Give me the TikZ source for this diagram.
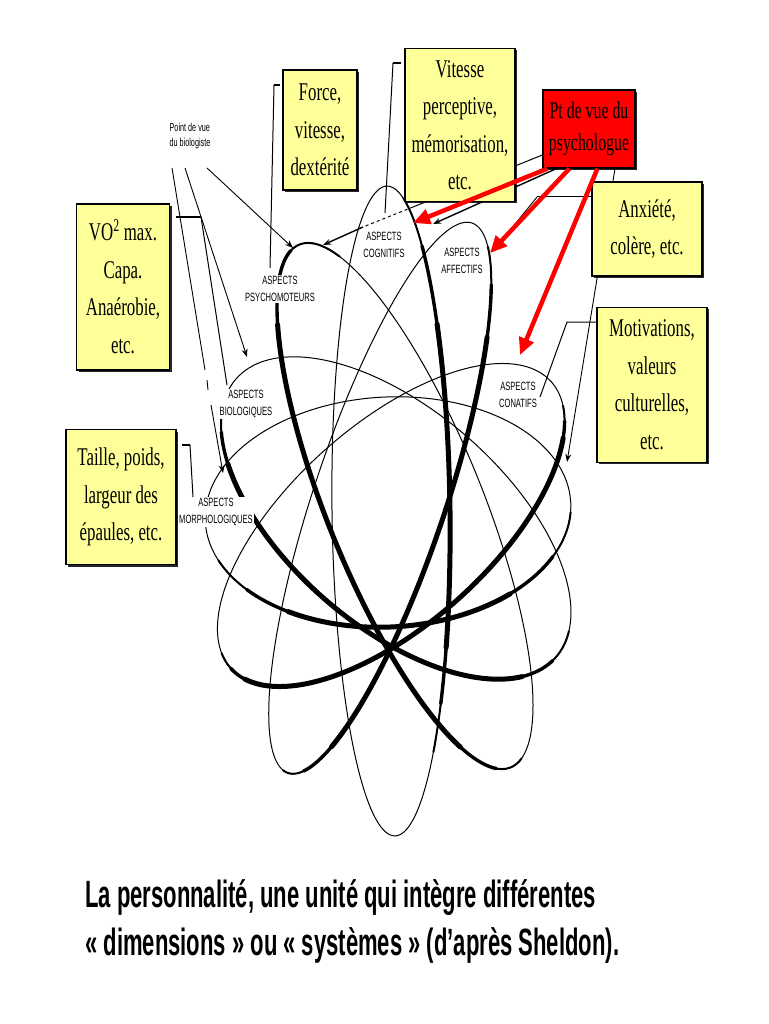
\documentclass[tikz,border=0pt]{standalone}
\usepackage{fontspec}
\setmainfont{Liberation Serif}
\newfontfamily\boxfont[FakeStretch=0.66]{Liberation Serif}
\newfontfamily\tagfont[FakeStretch=0.63]{Liberation Sans}
\newfontfamily\titlefont[FakeStretch=0.58]{Liberation Sans}
\usetikzlibrary{arrows.meta,positioning,shadows}

\definecolor{notebg}{HTML}{FFFF99}
\definecolor{alarm} {HTML}{FF0000}
\tikzset{
  shadowy/.style={drop shadow={shadow xshift=2pt, shadow yshift=-2pt,
                               fill=black, opacity=0.85}},
  notebox/.style={
    rectangle, draw=black, line width=1.2pt, fill=notebg,
    text=black, font=\boxfont\fontsize{25.5}{37.5}\selectfont, align=center,
    inner sep=2pt, shadowy
  },
  redbox/.style={notebox, fill=alarm, font=\boxfont\fontsize{24}{32}\selectfont},
  aspect/.style={fill=white, inner sep=1pt, align=center,
                 font=\tagfont\fontsize{12}{17}\selectfont},
  pointer/.style={-{Stealth[length=8pt, width=6pt]}, line width=0.9pt},
  redpointer/.style={-{Triangle[length=17pt, width=15pt]}, line width=4.5pt, draw=alarm, color=alarm},
  tether/.style={line width=1pt},
  tick/.style={line width=2.2pt}
}

% one orbit: cx cy a b angle, thick part t1..t2, thickest part p1..p2
\newcommand{\orbit}[9]{%
  \pgfmathsetmacro{\orbitmidA}{(#6+#8)/2}%
  \pgfmathsetmacro{\orbitmidB}{(#7+#9)/2}%
  \foreach \w/\ta/\tb in {1.0/0/360, 2.0/#6/#7, 3.4/\orbitmidA/\orbitmidB, 5.0/#8/#9}
    {\draw[line width=\w pt, line cap=round] plot[smooth, samples=80, domain=\ta:\tb]
      ({#1+#3*cos(\x)*cos(#5)-#4*sin(\x)*sin(#5)}, {#2+#3*cos(\x)*sin(#5)+#4*sin(\x)*cos(#5)});}%
}

\begin{document}
\begin{tikzpicture}[x=1pt, y=-1pt]
  \fill[white] (0,0) rectangle (768,1024);
  \useasboundingbox (0,0) rectangle (768,1024);

  % the six orbits
  \orbit{391}{511}{325}{59}{89.3}{196}{318}{235}{295}   % cognitifs
  \orbit{405}{506}{282}{78}{68}{-10}{205}{30}{140}      % psychomoteurs
  \orbit{380}{498}{290}{66}{108.5}{200}{365}{230}{330}  % affectifs
  \orbit{396}{518}{212}{108}{41}{-15}{165}{20}{140}     % biologiques
  \orbit{391}{525}{215}{100}{-41.8}{15}{190}{30}{170}   % conatifs
  \orbit{388}{512}{183}{115}{-3}{5}{160}{50}{125}       % morphologiques

  \node[aspect] (psychomot) at (280,289) {ASPECTS\\PSYCHOMOTEURS};
  \node[aspect] (cogni)     at (384,245) {ASPECTS\\COGNITIFS};
  \node[aspect] (affect)    at (462,261) {ASPECTS\\AFFECTIFS};
  \node[aspect] (biolog)    at (246,404) {ASPECTS\\BIOLOGIQUES};
  \node[aspect] (morpho)    at (216,512) {ASPECTS\\MORPHOLOGIQUES};
  \node[aspect] (conat)     at (518,395) {ASPECTS\\CONATIFS};

  \node[align=left, font=\tagfont\fontsize{11.5}{15}\selectfont] (biolo) at (190,136)
    {Point de vue\\du biologiste};

  \node[redbox, minimum width=92pt, minimum height=78pt] (psy) at (589,129)
    {Pt de vue du\\psychologue};

  % free ends
  \coordinate (bioA)    at (207,168);
  \coordinate (bioB)    at (185,168);
  \coordinate (bioC)    at (172,168);
  \coordinate (gapTop)  at (205,370);
  \coordinate (gapBot)  at (211,405);
  \coordinate (psyTip)  at (293,248);
  \coordinate (bioTip)  at (247,357);
  \coordinate (morTip)  at (223,473);
  \coordinate (dashA)   at (413,207);
  \coordinate (dashB)   at (363,227);
  \coordinate (leftTip) at (323,245);
  \coordinate (anxKnee) at (537,197);
  \coordinate (affTip)  at (494,250);
  \coordinate (rightTip) at (567,462);
  \coordinate (motKnee) at (567,322);
  \coordinate (cogTip)  at (413,223);
  \coordinate (cogTipB) at (433,224);
  \coordinate (affTipR) at (490,253);
  \coordinate (conTip)  at (520,355);

  \draw[pointer] (bioA) -- (psyTip);
  \draw[pointer] (bioB) -- (bioTip);
  \draw[tether, line width=0.9pt] (bioC) -- (gapTop);
  \draw[tether, line width=0.9pt] (207,380) -- (208,390);
  \draw[pointer] (gapBot) -- (morTip);

  \draw[tick] (176,217) -- (201,217);
  \draw[tether] (201,217) -- (227,385);
  \draw[tick] (182,445) -- (190,445);
  \draw[tether] (190,445) -- (193,497);
  \draw[tick] (280,85) -- (274,85);
  \draw[tether] (274,85) -- (270,268);
  \draw[tick] (401,63) -- (393,63);
  \draw[tether] (393,63) -- (385,213);

  \draw[tether] ([yshift=-26pt]psy.west) -- (dashA);
  \draw[tether, dashed] (dashA) -- (dashB);
  \draw[pointer, line width=1.4pt] (dashB) -- (leftTip);
  \draw[pointer] ([xshift=26pt]psy.south) -- (rightTip);
  \draw[tether] (593,197) -- (anxKnee);
  \draw[pointer] (anxKnee) -- (affTip);
  \draw[tether] (597,322) -- (motKnee) -- (540,397);
  \draw[pointer, line width=1.4pt] ([xshift=14pt]psy.south west) -- (cogTipB);

  % boxes
  \node[notebox, minimum width=74pt, minimum height=120pt] (force) at (320,130)
    {Force,\\vitesse,\\dextérité};
  \node[notebox, minimum width=110pt, minimum height=153pt] (vitesse) at (460,125)
    {Vitesse\\perceptive,\\mémorisation,\\etc.};
  \node[notebox, minimum width=110pt, minimum height=94pt] (anx) at (647,229)
    {Anxiété,\\colère, etc.};
  \node[notebox, minimum width=110pt, minimum height=155pt, below=30pt of anx, xshift=5pt] (motiv)
    {Motivations,\\valeurs\\culturelles,\\etc.};
  \node[notebox, minimum width=93pt, minimum height=166pt] (vo) at (123,287)
    {VO\textsuperscript{2} max.\\Capa.\\Anaérobie,\\etc.};
  \node[notebox, minimum width=110pt, minimum height=135pt] (taille) at (121,497)
    {Taille, poids,\\largeur des\\épaules, etc.};

  \draw[redpointer] ([xshift=5pt]psy.south west) -- (cogTip);
  \draw[redpointer] ([xshift=27pt]psy.south west) -- (affTipR);
  \draw[redpointer] ([xshift=55pt]psy.south west) -- (conTip);

  \node[anchor=north west, align=left, inner sep=0pt,
        font=\titlefont\bfseries\fontsize{38}{48}\selectfont] (caption) at (85,879)
    {La personnalité, une unité qui intègre différentes\\« dimensions » ou « systèmes » (d’après Sheldon).};
\end{tikzpicture}
\end{document}
